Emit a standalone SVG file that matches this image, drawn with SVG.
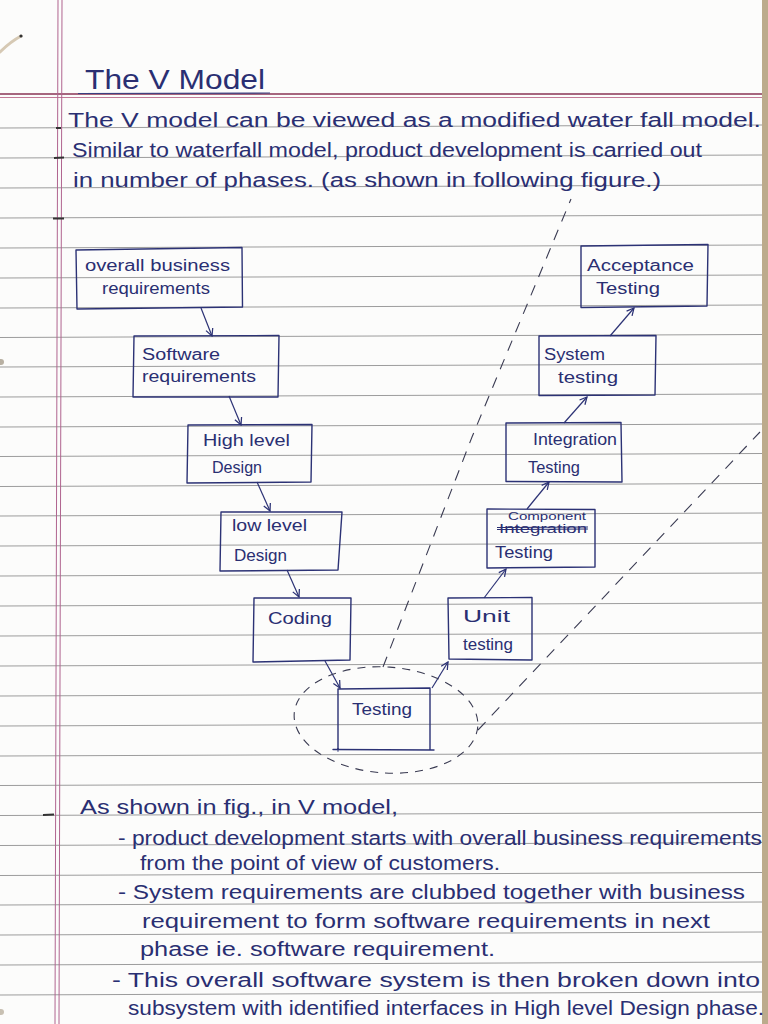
<svg xmlns="http://www.w3.org/2000/svg" width="768" height="1024" viewBox="0 0 768 1024">
<style>
.ink{font-family:"Liberation Sans",Arial,sans-serif;fill:#2a2f72;}
.body{font-size:20px;}
.bx{font-size:16px;}
.box{fill:none;stroke:#2c3275;stroke-width:1.4;stroke-linejoin:round;stroke-linecap:round;}
.rule{fill:none;stroke:#9c9c9c;stroke-width:1;}
.arr{fill:none;stroke:#2c3275;stroke-width:1.2;marker-end:url(#ah);}
.dash{fill:none;stroke:#3a3b52;stroke-width:1.1;stroke-dasharray:11 9;}
</style>
<defs>
<marker id="ah" viewBox="0 0 10 10" refX="9" refY="5" markerWidth="9" markerHeight="9" orient="auto" markerUnits="userSpaceOnUse">
<path d="M1,1 L9,5 L1,9" fill="none" stroke="#2c3275" stroke-width="1.4"/>
</marker>
</defs>
<!-- paper -->
<rect x="0" y="0" width="768" height="1024" fill="#fcfcfb"/>
<rect x="762" y="0" width="6" height="1024" fill="#bcab8c"/>
<!-- ruled lines -->
<path class="rule" d="M0,128 L762,125 M0,158 L762,155 M0,188 L762,185 M0,218 L762,215 M0,248 L762,245 M0,278 L762,275 M0,308 L762,305 M0,337.5 L762,334.5 M0,367 L762,364 M0,397 L762,394 M0,427 L762,424 M0,456.5 L762,453.5 M0,486.5 L762,483.5 M0,516 L762,513 M0,546 L762,543 M0,576 L762,573 M0,606 L762,603 M0,636 L762,633 M0,666 L762,663 M0,696 L762,693 M0,726 L762,723 M0,756 L762,753 M0,785.5 L762,782.5 M0,815.5 L762,812.5 M0,845.5 L762,842.5 M0,875.5 L762,872.5 M0,905 L762,902 M0,935 L762,932 M0,965 L762,962 M0,995 L762,992"/>
<!-- header lines -->
<path d="M0,94 L762,94" stroke="#8a3454" stroke-width="1.3" fill="none"/>
<path d="M0,97.5 L762,97.5" stroke="#c27b97" stroke-width="1" fill="none"/>
<!-- margin lines -->
<path d="M58,0 L55,1024 M62,0 L59,1024" stroke="#b0648f" stroke-width="1" fill="none"/>
<!-- margin ticks -->
<path d="M56,128 L61,128 M54,158 L64,157.5 M53,218.5 L64,218.5 M43,815 L54,814.5" stroke="#333" stroke-width="1.8" fill="none"/>
<!-- stray marks -->
<path d="M0,52 Q10,42 21,36" stroke="#d6c9b4" stroke-width="3" fill="none" stroke-linecap="round"/>
<circle cx="21" cy="36" r="1.6" fill="#333"/>
<circle cx="1" cy="362" r="3" fill="#b8b0a2"/>
<circle cx="1" cy="1012" r="3" fill="#c8c0b2"/>

<!-- title and paragraph -->
<g id="title">
<text class="ink" x="85" y="89" font-size="28" textLength="180" lengthAdjust="spacingAndGlyphs">The V Model</text>
<path d="M78,93.5 L270,93" stroke="#3a3f80" stroke-width="1.2" fill="none"/>
</g>
<g id="intro">
<text class="ink body" x="68" y="127" textLength="693" lengthAdjust="spacingAndGlyphs">The V model can be viewed as a modified water fall model.</text>
<text class="ink body" x="72" y="157" textLength="630" lengthAdjust="spacingAndGlyphs">Similar to waterfall model, product development is carried out</text>
<text class="ink body" x="73" y="187" textLength="588" lengthAdjust="spacingAndGlyphs">in number of phases. (as shown in following figure.)</text>
</g>

<!-- connectors -->
<g id="connectors">
<path class="arr" d="M201,308 L212,336"/>
<path class="arr" d="M229,396 L241,425"/>
<path class="arr" d="M257,482 L270,511"/>
<path class="arr" d="M287,570 L299,597"/>
<path class="arr" d="M325,661 L340,688"/>
<path class="arr" d="M432,688 L448,662"/>
<path class="arr" d="M484,598 L506,569"/>
<path class="arr" d="M527,509 L549,482"/>
<path class="arr" d="M564,423 L587,397"/>
<path class="arr" d="M610,336 L634,308"/>
<path class="dash" d="M383,667 L472,437 L571,199"/>
<path class="dash" d="M478,730 L760,432"/>
<ellipse class="dash" cx="386" cy="720" rx="92" ry="53" transform="rotate(4 386 720)" style="stroke-dasharray:8 7"/>
</g>

<!-- nodes -->
<g id="n-business">
<path class="box" d="M76,250 L242,247.5 L242.5,307 L77,309 Z"/>
<text class="ink bx" x="85" y="271" textLength="145" lengthAdjust="spacingAndGlyphs">overall business</text>
<text class="ink bx" x="102" y="294" textLength="108" lengthAdjust="spacingAndGlyphs">requirements</text>
</g>
<g id="n-software">
<path class="box" d="M134,336 L279,335.5 L278,397 L133,397 Z"/>
<text class="ink bx" x="142" y="360" textLength="78" lengthAdjust="spacingAndGlyphs">Software</text>
<text class="ink bx" x="142" y="382" textLength="114" lengthAdjust="spacingAndGlyphs">requirements</text>
</g>
<g id="n-hld">
<path class="box" d="M188,425 L312,424.5 L311,482 L187,483 Z"/>
<text class="ink bx" x="203" y="446" textLength="87" lengthAdjust="spacingAndGlyphs">High level</text>
<text class="ink bx" x="212" y="473" textLength="50" lengthAdjust="spacingAndGlyphs">Design</text>
</g>
<g id="n-lld">
<path class="box" d="M221,512 L342,512 L338,570 L220,571 Z"/>
<text class="ink bx" x="232" y="531" textLength="75" lengthAdjust="spacingAndGlyphs">low level</text>
<text class="ink bx" x="234" y="561" textLength="53" lengthAdjust="spacingAndGlyphs">Design</text>
</g>
<g id="n-coding">
<path class="box" d="M254,598 L351,598 L350,660 L253,662 Z"/>
<text class="ink bx" x="268" y="624" textLength="64" lengthAdjust="spacingAndGlyphs">Coding</text>
</g>
<g id="n-testing">
<path class="box" d="M338,689 L430,688 L430,750 M434,750 L333,749.5 M338,689 L338,751"/>
<text class="ink bx" x="352" y="715" textLength="60" lengthAdjust="spacingAndGlyphs">Testing</text>
</g>
<g id="n-unit">
<path class="box" d="M448,598 L532,597.5 L532,660 L449,659 Z"/>
<text class="ink bx" x="463" y="622" textLength="47" lengthAdjust="spacingAndGlyphs">Unit</text>
<text class="ink bx" x="463" y="650" textLength="50" lengthAdjust="spacingAndGlyphs">testing</text>
</g>
<g id="n-component">
<path class="box" d="M487,509 L595,509.5 L595,567 L487,568 Z"/>
<text class="ink" x="499" y="533" font-size="13" textLength="88" lengthAdjust="spacingAndGlyphs">Integration</text>
<path d="M497,527.5 L588,527 M497,529.5 L588,529" stroke="#2a2f72" stroke-width="1.1" fill="none"/>
<text class="ink" x="508" y="520" font-size="11" textLength="78" lengthAdjust="spacingAndGlyphs">Component</text>
<text class="ink bx" x="495" y="558" textLength="58" lengthAdjust="spacingAndGlyphs">Testing</text>
</g>
<g id="n-integration">
<path class="box" d="M506,423 L621,422.5 L622,482 L506,481.5 Z"/>
<text class="ink bx" x="533" y="445" textLength="84" lengthAdjust="spacingAndGlyphs">Integration</text>
<text class="ink bx" x="528" y="473" textLength="52" lengthAdjust="spacingAndGlyphs">Testing</text>
</g>
<g id="n-system">
<path class="box" d="M539,336 L656,335.5 L655,395 L539,395.5 Z"/>
<text class="ink bx" x="544" y="360" textLength="61" lengthAdjust="spacingAndGlyphs">System</text>
<text class="ink bx" x="558" y="383" textLength="60" lengthAdjust="spacingAndGlyphs">testing</text>
</g>
<g id="n-acceptance">
<path class="box" d="M581,246 L708,244.5 L707,306 L581,307.5 Z"/>
<text class="ink bx" x="587" y="271" textLength="107" lengthAdjust="spacingAndGlyphs">Acceptance</text>
<text class="ink bx" x="596" y="294" textLength="64" lengthAdjust="spacingAndGlyphs">Testing</text>
</g>

<!-- notes -->
<g id="notes">
<text class="ink body" x="80" y="814" textLength="318" lengthAdjust="spacingAndGlyphs">As shown in fig., in V model,</text>
<text class="ink body" x="118" y="845" textLength="644" lengthAdjust="spacingAndGlyphs">- product development starts with overall business requirements</text>
<text class="ink body" x="140" y="870" textLength="360" lengthAdjust="spacingAndGlyphs">from the point of view of customers.</text>
<text class="ink body" x="118" y="899" textLength="627" lengthAdjust="spacingAndGlyphs">- System requirements are clubbed together with business</text>
<text class="ink body" x="142" y="928" textLength="568" lengthAdjust="spacingAndGlyphs">requirement to form software requirements in next</text>
<text class="ink body" x="140" y="956" textLength="355" lengthAdjust="spacingAndGlyphs">phase ie. software requirement.</text>
<text class="ink body" x="112" y="987" textLength="648" lengthAdjust="spacingAndGlyphs">- This overall software system is then broken down into</text>
<text class="ink body" x="128" y="1015" textLength="636" lengthAdjust="spacingAndGlyphs">subsystem with identified interfaces in High level Design phase.</text>
</g>
</svg>
